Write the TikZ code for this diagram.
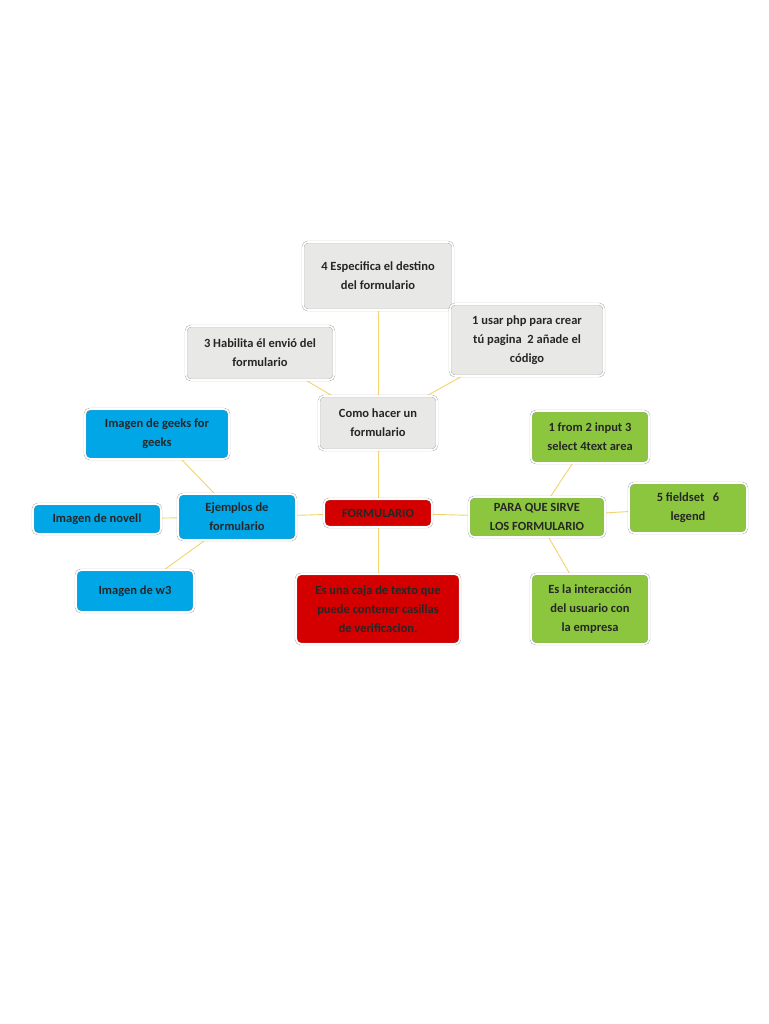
\documentclass[tikz,border=0pt]{standalone}
\usepackage{fontspec}
\setmainfont{Carlito}
\usepackage{tikz}
\usetikzlibrary{positioning,backgrounds}

\definecolor{linkc}{HTML}{F2D36B}
\definecolor{grayc}{HTML}{E8E8E6}
\definecolor{bluec}{HTML}{00A6E6}
\definecolor{greenc}{HTML}{8CC63F}
\definecolor{redc}{HTML}{D40000}

\tikzset{
  box/.style={rounded corners=5pt, align=center, font=\fontsize{12.5}{19}\selectfont\bfseries,
    draw=gray!75, double=white, double distance=1.6pt, inner sep=2pt},
  graybox/.style={box, fill=grayc, text=black!85},
  bluebox/.style={box, fill=bluec, text=black!85},
  greenbox/.style={box, fill=greenc, text=black!85},
  redbox/.style={box, fill=redc, text=black!85},
  link/.style={draw=linkc, line width=0.9pt}
}

\begin{document}
\begin{tikzpicture}[x=1pt, y=-1pt]
\useasboundingbox (0,0) rectangle (768,1024);
% center and first ring
\node[redbox, minimum width=108pt, minimum height=28pt] (form) at (378,513) {FORMULARIO};
\node[graybox, minimum width=118pt, minimum height=54pt] (como) at (378,423) {Como hacer un\\formulario};
\node[bluebox, minimum width=118pt, minimum height=46pt] (ejem) at (237,517) {Ejemplos de\\formulario};
\node[greenbox, minimum width=136pt, minimum height=40pt] (para) at (537,517) {PARA QUE SIRVE\\LOS FORMULARIO};
\node[redbox, minimum width=164pt, minimum height=70pt] (caja) at (378,609) {Es una caja de texto que\\puede contener casillas\\de verificacion.};
% gray branch
\node[graybox, minimum width=150pt, minimum height=68pt] (dest) at (378,276) {4 Especifica el destino\\del formulario};
\node[graybox, minimum width=148pt, minimum height=54pt] (habi) at (260,353) {3 Habilita él envió del\\formulario};
\node[graybox, minimum width=154pt, minimum height=72pt] (php) at (527,340) {1 usar php para crear\\tú pagina \ 2 añade el\\código};
% blue branch
\node[bluebox, minimum width=144pt, minimum height=50pt] (geek) at (157,434) {Imagen de geeks for\\geeks};
\node[bluebox, minimum width=128pt, minimum height=30pt] (nove) at (97,519) {Imagen de novell};
\node[bluebox, minimum width=118pt, minimum height=42pt] (wtre) at (135,591) {Imagen de w3};
% green branch
\node[greenbox, minimum width=118pt, minimum height=52pt] (from) at (590,437) {1 from 2 input 3\\select 4text area};
\node[greenbox, minimum width=118pt, minimum height=50pt] (fset) at (688,508) {5 fieldset \ \ 6\\legend};
\node[greenbox, minimum width=118pt, minimum height=70pt] (inter) at (590,609) {Es la interacción\\del usuario con\\la empresa};

\begin{pgfonlayer}{background}
\foreach \a/\b in {form/como, como/dest, como/habi, como/php, form/ejem, ejem/geek,
  ejem/nove, ejem/wtre, form/caja, form/para, para/from, para/fset, para/inter}
  \draw[link] (\a.center) -- (\b.center);
\end{pgfonlayer}
\end{tikzpicture}
\end{document}
